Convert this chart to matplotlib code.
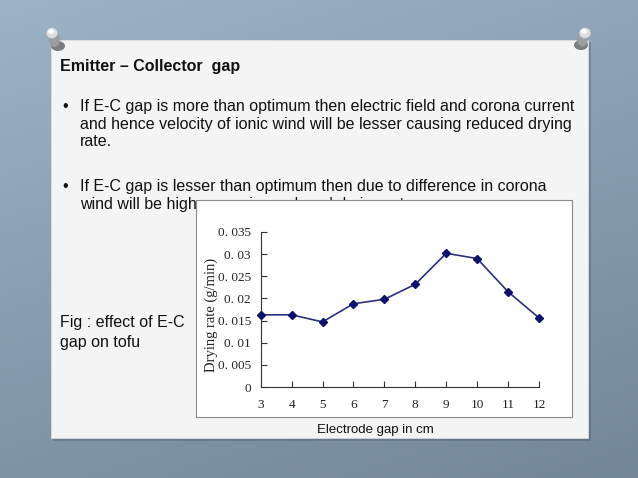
import numpy as np
import matplotlib
matplotlib.use("Agg")
import matplotlib.pyplot as plt
from matplotlib.patches import Rectangle, Ellipse

# ---- data ----
gap_cm = [3, 4, 5, 6, 7, 8, 9, 10, 11, 12]
drying_rate = [0.0163, 0.0163, 0.0147, 0.0188, 0.0198, 0.0232, 0.0302, 0.0290, 0.0215, 0.0156]
y_ticks = [0, 0.005, 0.01, 0.015, 0.02, 0.025, 0.03, 0.035]
y_tick_labels = ["0", "0. 005", "0. 01", "0. 015", "0. 02", "0. 025", "0. 03", "0. 035"]
x_ticks = [3, 4, 5, 6, 7, 8, 9, 10, 11, 12]

title_text = "Emitter \u2013 Collector  gap"
bullet1 = ["If E-C gap is more than optimum then electric field and corona current",
           "and hence velocity of ionic wind will be lesser causing reduced drying",
           "rate."]
bullet2 = ["If E-C gap is lesser than optimum then due to difference in corona",
           "wind will be higher causing reduced drying rates"]
fig_caption = ["Fig : effect of E-C", "gap on tofu"]
x_label = "Electrode gap in cm"
y_label = "Drying rate (g/min)"

W, H = 638, 478
fig = plt.figure(figsize=(W / 100, H / 100), dpi=100)

# ---- slide background (pixel coordinates) ----
bg = fig.add_axes([0, 0, 1, 1])
bg.set_xlim(0, W)
bg.set_ylim(H, 0)
bg.axis("off")
yy, xx = np.mgrid[0:1:120j, 0:1:160j]
grad = 0.6 * yy + 0.25 * xx
c_top = np.array([156, 178, 198]) / 255
c_bot = np.array([108, 127, 146]) / 255
img = c_top[None, None, :] * (1 - grad[..., None]) + c_bot[None, None, :] * grad[..., None]
bg.imshow(img, extent=[0, W, H, 0], aspect="auto", zorder=0)

# card shadow and card
bg.add_patch(Rectangle((53, 42), 538, 399, facecolor="#3c4a58", alpha=0.3, lw=0, zorder=1))
bg.add_patch(Rectangle((51, 40), 537, 398, facecolor="#f4f4f4", edgecolor="#e2e2e2", lw=0.5, zorder=2))

# pins
for (hx, hy, bx, by) in [(52, 33, 57, 44), (585, 33, 580, 43)]:
    bg.add_patch(Ellipse((bx + 1, by + 2), 14, 10, facecolor="#2a2f35", alpha=0.6, lw=0, zorder=3))
    bg.add_patch(Ellipse(((hx + bx) / 2, (hy + by) / 2 + 1), 11, 15, facecolor="#9a9ea3", lw=0, zorder=4))
    bg.add_patch(Ellipse((hx, hy), 12, 11, facecolor="#dcdee0", edgecolor="#a8acb0", lw=0.6, zorder=5))
    bg.add_patch(Ellipse((hx - 1, hy - 1.5), 6, 4.5, facecolor="#ffffff", lw=0, zorder=6))

# slide text
tf = "Liberation Sans"
fs = 11.5
bg.text(60, 66, title_text, fontsize=fs, fontweight="bold", family=tf, va="center", color="#111111", zorder=7)
bx0, tx0 = 62, 80
for i, line in enumerate(bullet1):
    bg.text(tx0, 106 + 18 * i, line, fontsize=fs, family=tf, va="center", color="#111111", zorder=7)
bg.text(bx0, 106, "\u2022", fontsize=fs, family=tf, va="center", color="#111111", zorder=7)
for i, line in enumerate(bullet2):
    bg.text(tx0, 186 + 18 * i, line, fontsize=fs, family=tf, va="center", color="#111111", zorder=7)
bg.text(bx0, 186, "\u2022", fontsize=fs, family=tf, va="center", color="#111111", zorder=7)
for i, line in enumerate(fig_caption):
    bg.text(60, 322 + 20 * i, line, fontsize=fs, family=tf, va="center", color="#111111", zorder=7)

# chart image box
bg.add_patch(Rectangle((196, 200), 376, 217, facecolor="white", edgecolor="#8a8a8a", lw=0.8, zorder=8))
bg.text(375, 430, x_label, fontsize=9.5, family=tf, ha="center", va="center", color="#111111", zorder=9)

# ---- chart ----
sf = "Liberation Serif"
ax = fig.add_axes([260.7 / W, 1 - 387 / H, (539 - 260.7) / W, (387 - 232) / H])
ax.set_facecolor("none")
ax.plot(gap_cm, drying_rate, color="#2b2f7e", lw=1.2, marker="D", markersize=4.5,
        markerfacecolor="#0b0f70", markeredgecolor="#0b0f70", zorder=3, clip_on=False)
ax.set_xlim(3, 12)
ax.set_ylim(0, 0.035)
ax.set_yticks(y_ticks)
ax.set_yticklabels(y_tick_labels)
ax.set_xticks(x_ticks)
for lab in ax.get_yticklabels() + ax.get_xticklabels():
    lab.set_family(sf)
    lab.set_fontsize(9.5)
    lab.set_color("#222222")
ax.tick_params(axis="both", direction="in", length=4, width=0.8, color="#333333")
ax.tick_params(axis="y", pad=7)
ax.tick_params(axis="x", pad=9)
for s in ["top", "right"]:
    ax.spines[s].set_visible(False)
for s in ["left", "bottom"]:
    ax.spines[s].set_color("#333333")
    ax.spines[s].set_linewidth(0.8)
ax.set_ylabel(y_label, family=sf, fontsize=10.5, color="#222222")
ax.yaxis.set_label_coords((218 - 260.7) / (539 - 260.7), (387 - 315) / (387 - 232))

fig.savefig("out.png", dpi=100)
